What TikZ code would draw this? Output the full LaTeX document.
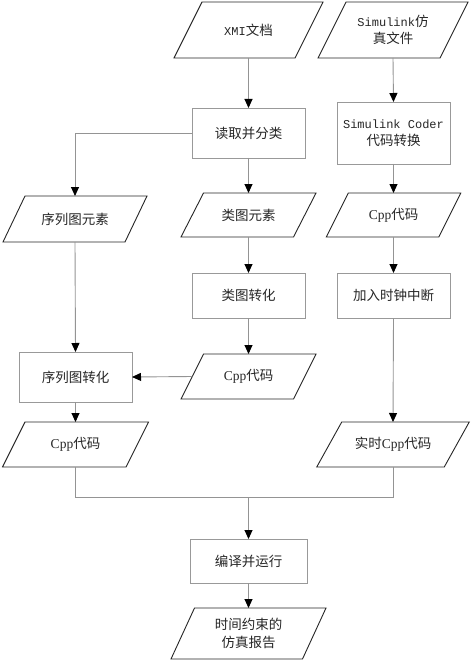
\documentclass[tikz,border=0pt]{standalone}
\usepackage{fontspec}
\setmainfont{Liberation Serif}
\newfontfamily\cjk{Noto Sans CJK SC}
\newfontfamily\monof{Liberation Mono}
\usetikzlibrary{arrows.meta}
\newcommand\zh[1]{{\cjk #1}}
\newcommand\ml[1]{{\monof\fontsize{12}{17}\selectfont #1}}
\newcommand\mypara[7]{%
  \node[txt,minimum width=#4pt,minimum height=#5pt] (#1) at (#2,#3) {#7};
  \draw[pbord] ([xshift=-#6pt]#1.south west) -- ([xshift=-#6pt]#1.south east)
     -- ([xshift=#6pt]#1.north east) -- ([xshift=#6pt]#1.north west) -- cycle;}
\begin{document}
\begin{tikzpicture}[x=1pt,y=-1pt,
  txt/.style={inner sep=0pt,outer sep=0pt,align=center,font=\fontsize{13.5}{17.5}\selectfont,text=black!85},
  rbox/.style={txt,draw=black!40,line width=0.9pt},
  pbord/.style={draw=black!85,line width=0.9pt},
  conn/.style={draw=black!42,line width=0.9pt},
  arr/.style={conn,-{Triangle[width=8pt,length=9pt,color=black]}}
]
\useasboundingbox[fill=white] (0,0) rectangle (474,663);

% parallelograms: name, cx, cy, w, h, half-slant, text
\mypara{xmi}{248.5}{30}{121}{56}{14}{\ml{XMI}\zh{文档}}
\mypara{sim}{393}{30}{122}{56}{14}{\ml{Simulink}\zh{仿}\\\zh{真文件}}
\mypara{seqe}{75}{219}{122}{46}{11}{\zh{序列图元素}}
\mypara{clse}{248.5}{215}{112.5}{44}{11.25}{\zh{类图元素}}
\mypara{cppr}{393.5}{215}{112.5}{44}{11}{Cpp\zh{代码}}
\mypara{cppm}{248.5}{376.5}{112.5}{45}{11.25}{Cpp\zh{代码}}
\mypara{cppl}{75.5}{444.5}{123.5}{45}{11.25}{Cpp\zh{代码}}
\mypara{rt}{393}{444.5}{127.5}{45}{12.5}{\zh{实时}Cpp\zh{代码}}
\mypara{rep}{248.5}{633.5}{131.5}{51}{11.75}{\zh{时间约束的}\\\zh{仿真报告}}

% rectangles
\node[rbox,minimum width=113pt,minimum height=50pt] (read) at (248.5,133) {\zh{读取并分类}};
\node[rbox,minimum width=113pt,minimum height=62pt] (coder) at (393.5,133) {\ml{Simulink Coder}\\\zh{代码转换}};
\node[rbox,minimum width=113pt,minimum height=45pt] (clsc) at (248.5,295.5) {\zh{类图转化}};
\node[rbox,minimum width=113pt,minimum height=45pt] (clk) at (393.5,295.5) {\zh{加入时钟中断}};
\node[rbox,minimum width=113pt,minimum height=50pt] (seqc) at (75.5,377) {\zh{序列图转化}};
\node[rbox,minimum width=117pt,minimum height=44pt] (run) at (248.5,561) {\zh{编译并运行}};

% connectors
\draw[arr] (xmi.south) -- (read.north);
\draw[arr] (sim.south) -- (coder.north);
\draw[arr] (read.south) -- (clse.north);
\draw[arr] (read.west) -| (seqe.north);
\draw[arr] (coder.south) -- (cppr.north);
\draw[arr] (cppr.south) -- (clk.north);
\draw[arr] (clse.south) -- (clsc.north);
\draw[arr] (clsc.south) -- (cppm.north);
\draw[arr] (seqe.south) -- (seqc.north);
\draw[arr] (cppm.west) -- (seqc.east);
\draw[arr] (seqc.south) -- (cppl.north);
\draw[arr] (clk.south) -- (rt.north);
\coordinate (m) at (248.5,497.5);
\draw[conn] (cppl.south) |- (m) -| (rt.south);
\draw[arr] (m) -- (run.north);
\draw[arr] (run.south) -- (rep.north);
\end{tikzpicture}
\end{document}
